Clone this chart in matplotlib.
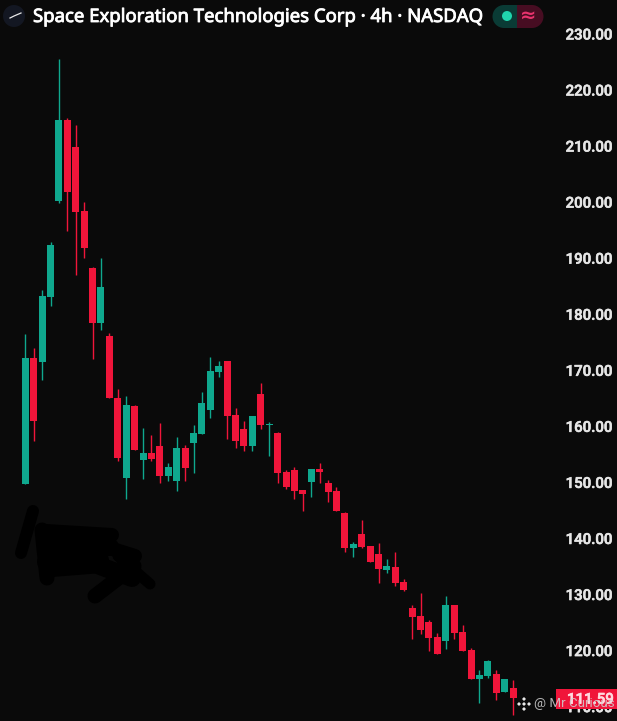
import matplotlib
matplotlib.use("Agg")
import matplotlib.pyplot as plt
import matplotlib.patheffects as pe
from matplotlib.patches import Circle, Rectangle, Polygon

title = "Space Exploration Technologies Corp · 4h · NASDAQ"
last_price = 111.59
price_ticks = [230, 220, 210, 200, 190, 180, 170, 160, 150, 140, 130, 120, 110]

opens = [149.71, 172.24, 171.53, 183.13, 200.20, 214.65, 209.83, 198.42, 188.25, 178.38,
         176.11, 165.00, 150.83, 163.63, 153.99, 155.24, 156.49, 151.19, 150.30, 156.13,
         157.08, 158.63, 162.91, 169.69, 171.65, 162.02, 159.52, 156.49, 165.71, 160.18,
         158.75, 151.85, 152.21, 148.64, 150.01, 152.44, 149.89, 148.46, 144.48, 138.24,
         140.79, 138.65, 137.22, 134.37, 134.85, 132.23, 127.59, 126.16, 125.04, 122.36,
         121.75, 128.18, 123.30, 120.09, 114.97, 115.45, 115.76, 112.55, 113.26]
closes = [172.24, 161.00, 183.25, 192.35, 214.65, 201.75, 198.29, 191.87, 178.38, 184.80,
          165.00, 154.30, 163.86, 155.83, 155.24, 154.17, 151.19, 152.74, 156.13, 152.62,
          158.81, 164.11, 169.87, 170.76, 161.90, 157.43, 156.49, 161.84, 160.24, 160.41,
          151.73, 149.12, 148.51, 147.93, 152.39, 151.85, 148.28, 144.95, 138.24, 139.01,
          138.47, 135.79, 134.49, 135.13, 132.10, 130.80, 125.98, 123.66, 122.29, 119.38,
          128.12, 123.18, 119.97, 114.97, 115.63, 118.13, 112.47, 114.92, 111.59]
highs = [176.47, 173.97, 184.32, 192.94, 225.53, 214.92, 213.76, 200.08, 188.43, 190.03,
         176.60, 166.61, 165.41, 163.86, 159.65, 158.45, 160.54, 153.40, 158.15, 156.67,
         160.24, 166.07, 172.37, 171.71, 171.65, 163.27, 160.95, 161.84, 167.68, 160.83,
         159.04, 152.21, 152.80, 148.64, 152.39, 153.51, 150.42, 149.12, 144.66, 139.42,
         143.23, 138.65, 139.13, 136.33, 137.53, 132.71, 128.12, 130.21, 125.45, 123.18,
         129.73, 128.18, 124.55, 120.40, 116.53, 118.31, 116.53, 114.92, 114.74]
lows = [149.71, 157.43, 168.26, 181.47, 199.84, 194.90, 187.00, 190.03, 172.01, 177.18,
        165.00, 153.81, 147.03, 155.83, 150.60, 153.81, 149.94, 150.30, 148.46, 150.30,
        151.73, 158.63, 161.48, 168.75, 157.68, 156.19, 155.65, 155.65, 159.47, 154.76,
        149.94, 148.82, 147.03, 144.95, 147.34, 149.83, 146.55, 144.84, 137.63, 136.63,
        138.24, 135.79, 131.99, 133.78, 131.51, 130.62, 122.00, 122.90, 119.92, 119.38,
        120.22, 122.00, 119.97, 114.97, 110.58, 115.04, 111.17, 112.55, 108.50]

W, H = 617, 721
BG = "#0a0a0a"
GREEN = "#0fa88e"
RED = "#f0153a"
bolden = [pe.withStroke(linewidth=0.45, foreground="#e6e6e6")]

fig = plt.figure(figsize=(W / 100, H / 100), dpi=100, facecolor=BG)
ax = fig.add_axes([0, 0, 1, 1], facecolor=BG)
step = 8.41
ax.set_xlim(-25.3 / step, (W - 25.3) / step)
ax.set_ylim(107.43, 236.06)
for s in ax.spines.values():
    s.set_visible(False)
ax.set_xticks([])

xs = list(range(len(opens)))
cols = [GREEN if c >= o else RED for o, c in zip(opens, closes)]
ax.vlines(xs, lows, highs, colors=cols, linewidth=1.0, zorder=3)
ax.bar(xs, [c - o for o, c in zip(opens, closes)], bottom=opens, width=0.83,
       color=cols, linewidth=0, zorder=4)

ax.set_yticks(price_ticks)
ax.set_yticklabels([f"{v:.2f}" for v in price_ticks], family="Roboto",
                   fontweight="medium", fontsize=10.8, color="#e6e6e6")
ax.yaxis.tick_right()
ax.tick_params(axis="y", length=0, pad=-37, direction="in")
for lab in ax.get_yticklabels():
    lab.set_zorder(5)
    lab.set_ha("left")
    lab.set_path_effects(bolden)


def fx(x):
    return x / W


def fy(y):
    return 1 - y / H


t = fig.transFigure
# redaction scribble over the lower left corner
strokes = [([33, 21], [511, 553], 12), ([42, 47], [530, 578], 15), ([46, 112], [531, 535], 14),
           ([46, 110], [545, 547], 18), ([46, 100], [562, 560], 18), ([46, 96], [572, 568], 11),
           ([100, 135], [545, 556], 14), ([118, 150], [556, 584], 11), ([95, 134], [596, 566], 15),
           ([100, 132], [566, 578], 18)]
for sx, sy, lw in strokes:
    fig.add_artist(plt.Line2D([fx(v) for v in sx], [fy(v) for v in sy], transform=t,
                              color="#000000", linewidth=lw * 0.72, solid_capstyle="round"))

# header
fig.add_artist(Circle((14, H - 16), 11, transform=None, facecolor="#131722", edgecolor="none"))
fig.add_artist(plt.Line2D([fx(v) for v in (10, 14, 21)], [fy(v) for v in (18, 16, 13)],
                          color="#e8e8e8", linewidth=0.9, transform=t))
fig.text(fx(33), fy(17), title, color="white", fontsize=13.35, family="Noto Sans",
         fontweight="medium", va="center", ha="left", zorder=6,
         path_effects=[pe.withStroke(linewidth=0.6, foreground="white")])

fig.add_artist(Rectangle((fx(504), fy(28)), fx(13), 23 / H, transform=t, facecolor="#0a3b35", edgecolor="none"))
fig.add_artist(Circle((504, H - 16.5), 11.5, transform=None, facecolor="#0a3b35", edgecolor="none"))
fig.add_artist(Rectangle((fx(517), fy(28)), fx(15), 23 / H, transform=t, facecolor="#470d22", edgecolor="none"))
fig.add_artist(Circle((532, H - 16.5), 11.5, transform=None, facecolor="#470d22", edgecolor="none"))
fig.add_artist(Circle((507, H - 16), 5, transform=None, facecolor="#20d5ad", edgecolor="none"))
fig.text(fx(528), fy(15.5), "≈", color="#e8336d", fontsize=14, family="DejaVu Sans",
         fontweight="bold", ha="center", va="center")

# last price flag
trans = ax.get_yaxis_transform()
ax.add_patch(Rectangle((556 / W, 109.57), 1 - 556 / W, 3.57, transform=trans, facecolor=RED,
                       edgecolor="none", zorder=6))
ax.text(567 / W, last_price - 0.35, f"{last_price:.2f}", transform=trans, color="#ffd9df", fontsize=10.8,
        family="Roboto", fontweight="medium", va="center", ha="left", zorder=7,
        path_effects=[pe.withStroke(linewidth=0.45, foreground="#ffd9df")])

# watermark
for dx, dy in [(0, -5), (5, 0), (0, 5), (-5, 0), (0, 0)]:
    r = 2.0
    cx, cy = 524 + dx, 704 + dy
    fig.add_artist(Polygon([(fx(cx), fy(cy - r)), (fx(cx + r), fy(cy)), (fx(cx), fy(cy + r)), (fx(cx - r), fy(cy))],
                           closed=True, transform=t, facecolor="#e8e8e8", edgecolor="none", zorder=8))
fig.text(fx(534), fy(704), "@ Mr Curious", color="#d0d0d0", alpha=0.85, fontsize=9.6, family="Roboto",
         va="center", ha="left", zorder=8)

fig.savefig("out.png", dpi=100, facecolor=BG)
